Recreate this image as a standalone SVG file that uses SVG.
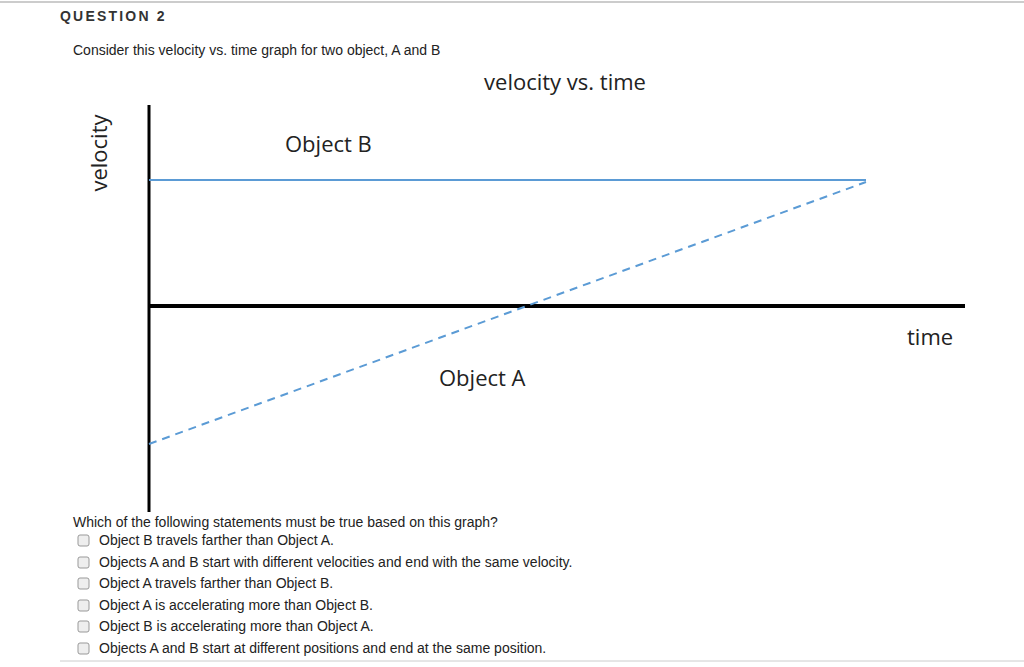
<svg xmlns="http://www.w3.org/2000/svg" width="1024" height="667" viewBox="0 0 1024 667">
<style>
.t{font-family:"Liberation Sans",Arial,sans-serif;font-size:14px;fill:#222}
.g{font-family:"Open Sans","Noto Sans",sans-serif;font-size:22px;fill:#222}
.cb{fill:#eee;stroke:#999;stroke-width:1}
</style>
<rect width="1024" height="667" fill="#fff"/>
<line x1="0" y1="2" x2="1024" y2="2" stroke="#ccc" stroke-width="2"/>
<text x="60" y="21" font-family="Liberation Sans,Arial,sans-serif" font-size="14" font-weight="bold" letter-spacing="2.2" fill="#333">QUESTION 2</text>
<text class="t" x="73" y="55">Consider this velocity vs. time graph for two object, A and B</text>
<g id="graph">
<text class="g" x="565" y="90" text-anchor="middle">velocity vs. time</text>
<text class="g" transform="translate(107,153) rotate(-90)" text-anchor="middle">velocity</text>
<text class="g" x="285" y="152">Object B</text>
<text class="g" x="439" y="386">Object A</text>
<text class="g" x="907" y="345">time</text>
</g>
<g id="connectors">
<line x1="149" y1="105" x2="149" y2="512" stroke="#000" stroke-width="3"/>
<line x1="149" y1="306" x2="965" y2="306" stroke="#000" stroke-width="4"/>
<line x1="149" y1="180" x2="866" y2="180" stroke="#5b9bd5" stroke-width="2"/>
<line x1="149" y1="444" x2="866" y2="182" stroke="#5b9bd5" stroke-width="2" stroke-dasharray="8,6"/>
</g>
<text class="t" x="73" y="527">Which of the following statements must be true based on this graph?</text>
<g id="options">
<rect class="cb" x="78" y="535" width="11" height="11" rx="2"/>
<rect class="cb" x="78" y="557" width="11" height="11" rx="2"/>
<rect class="cb" x="78" y="578" width="11" height="11" rx="2"/>
<rect class="cb" x="78" y="600" width="11" height="11" rx="2"/>
<rect class="cb" x="78" y="621" width="11" height="11" rx="2"/>
<rect class="cb" x="78" y="643" width="11" height="11" rx="2"/>
<text class="t" x="99" y="545">Object B travels farther than Object A.</text>
<text class="t" x="99" y="567">Objects A and B start with different velocities and end with the same velocity.</text>
<text class="t" x="99" y="588">Object A travels farther than Object B.</text>
<text class="t" x="99" y="610">Object A is accelerating more than Object B.</text>
<text class="t" x="99" y="631">Object B is accelerating more than Object A.</text>
<text class="t" x="99" y="653">Objects A and B start at different positions and end at the same position.</text>
</g>
<line x1="60" y1="661" x2="1024" y2="661" stroke="#ccc" stroke-width="1"/>
</svg>
